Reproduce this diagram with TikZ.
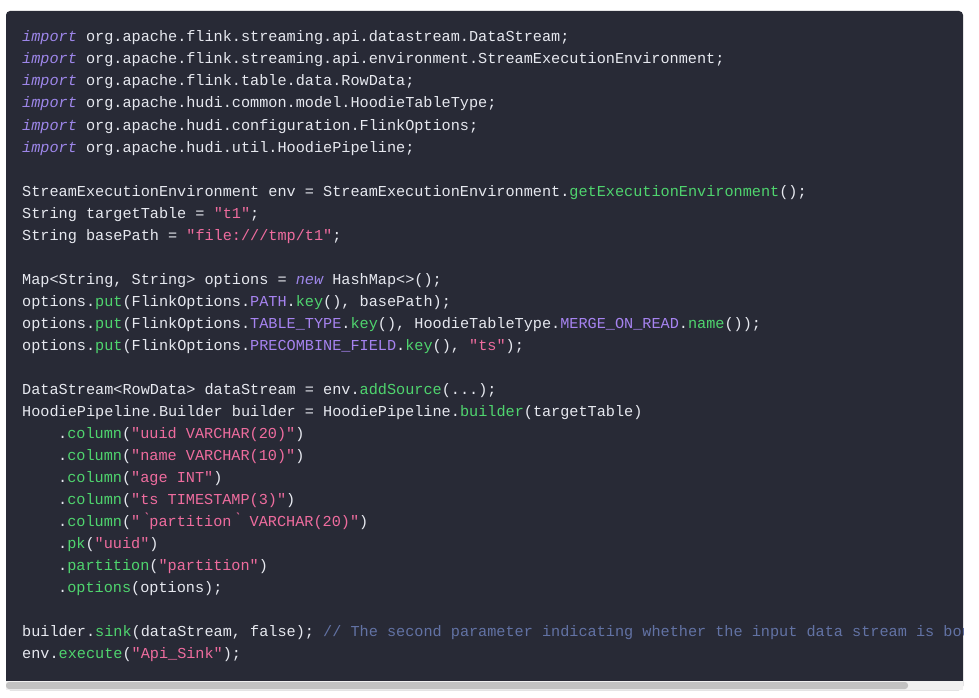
\documentclass[tikz,border=0pt]{standalone}
\usepackage{fontspec}
\setmonofont{Liberation Mono}
\definecolor{bgc}{HTML}{282A36}
\definecolor{txc}{HTML}{E6E8EF}
\definecolor{kwc}{HTML}{9D86E9}
\definecolor{fnc}{HTML}{4FD46E}
\definecolor{stc}{HTML}{EE6C9E}
\definecolor{coc}{HTML}{A683F0}
\definecolor{cmc}{HTML}{6272A4}
\newcommand\Kw[1]{\textcolor{kwc}{\itshape #1}}
\newcommand\Fn[1]{\textcolor{fnc}{#1}}
\newcommand\St[1]{\textcolor{stc}{#1}}
\newcommand\Co[1]{\textcolor{coc}{#1}}
\newcommand\Cm[1]{\textcolor{cmc}{#1}}
\tikzset{code/.style={anchor=base west,inner sep=0pt,text=txc,font=\ttfamily\fontsize{15.2}{22}\selectfont}}
\begin{document}
\begin{tikzpicture}[x=1pt,y=-1pt]
\useasboundingbox (0,0) rectangle (979,698);
\fill[white] (0,0) rectangle (979,698);
\fill[bgc,rounded corners=4pt] (6,11) rectangle (963,690);
\fill[white!94!black] (6,681) rectangle (963,690);
\fill[black!24,rounded corners=3pt] (6,682) rectangle (908,689);
\begin{scope}
\clip (6,11) rectangle (963,680);
\def\L#1{42+22*(#1-1)}
\node[code] (l1) at (22,{\L{1}}) {\Kw{import} org.apache.flink.streaming.api.datastream.DataStream;};
\node[code] (l2) at (22,{\L{2}}) {\Kw{import} org.apache.flink.streaming.api.environment.StreamExecutionEnvironment;};
\node[code] (l3) at (22,{\L{3}}) {\Kw{import} org.apache.flink.table.data.RowData;};
\node[code] (l4) at (22,{\L{4}}) {\Kw{import} org.apache.hudi.common.model.HoodieTableType;};
\node[code] (l5) at (22,{\L{5}}) {\Kw{import} org.apache.hudi.configuration.FlinkOptions;};
\node[code] (l6) at (22,{\L{6}}) {\Kw{import} org.apache.hudi.util.HoodiePipeline;};
\node[code] (l8) at (22,{\L{8}}) {StreamExecutionEnvironment env = StreamExecutionEnvironment.\Fn{getExecutionEnvironment}();};
\node[code] (l9) at (22,{\L{9}}) {String targetTable = \St{"t1"};};
\node[code] (l10) at (22,{\L{10}}) {String basePath = \St{"file:///tmp/t1"};};
\node[code] (l12) at (22,{\L{12}}) {Map<String, String> options = \Kw{new} HashMap<>();};
\node[code] (l13) at (22,{\L{13}}) {options.\Fn{put}(FlinkOptions.\Co{PATH}.\Fn{key}(), basePath);};
\node[code] (l14) at (22,{\L{14}}) {options.\Fn{put}(FlinkOptions.\Co{TABLE\_TYPE}.\Fn{key}(), HoodieTableType.\Co{MERGE\_ON\_READ}.\Fn{name}());};
\node[code] (l15) at (22,{\L{15}}) {options.\Fn{put}(FlinkOptions.\Co{PRECOMBINE\_FIELD}.\Fn{key}(), \St{"ts"});};
\node[code] (l17) at (22,{\L{17}}) {DataStream<RowData> dataStream = env.\Fn{addSource}(...);};
\node[code] (l18) at (22,{\L{18}}) {HoodiePipeline.Builder builder = HoodiePipeline.\Fn{builder}(targetTable)};
\node[code] (l19) at (58,{\L{19}}) {.\Fn{column}(\St{"uuid VARCHAR(20)"})};
\node[code] (l20) at (58,{\L{20}}) {.\Fn{column}(\St{"name VARCHAR(10)"})};
\node[code] (l21) at (58,{\L{21}}) {.\Fn{column}(\St{"age INT"})};
\node[code] (l22) at (58,{\L{22}}) {.\Fn{column}(\St{"ts TIMESTAMP(3)"})};
\node[code] (l23) at (58,{\L{23}}) {.\Fn{column}(\St{"\`{}partition\`{} VARCHAR(20)"})};
\node[code] (l24) at (58,{\L{24}}) {.\Fn{pk}(\St{"uuid"})};
\node[code] (l25) at (58,{\L{25}}) {.\Fn{partition}(\St{"partition"})};
\node[code] (l26) at (58,{\L{26}}) {.\Fn{options}(options);};
\node[code] (l28) at (22,{\L{28}}) {builder.\Fn{sink}(dataStream, false); \Cm{// The second parameter indicating whether the input data stream is bounded}};
\node[code] (l29) at (22,{\L{29}}) {env.\Fn{execute}(\St{"Api\_Sink"});};
\end{scope}
\end{tikzpicture}
\end{document}
